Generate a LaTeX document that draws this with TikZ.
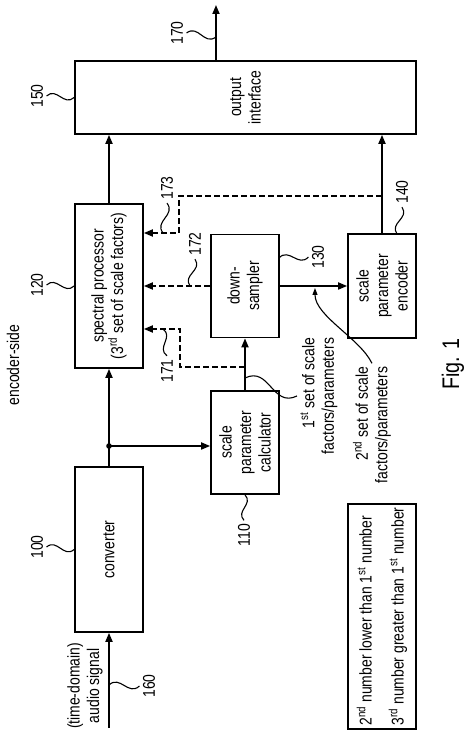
\documentclass[tikz,border=0pt]{standalone}
\usepackage{fontspec}
\setmainfont{Liberation Sans}[FakeStretch=0.82]
\usepackage{tikz}
\usetikzlibrary{calc}
\usetikzlibrary{arrows.meta}

\tikzset{
    blk/.style={draw, line width=1.7pt, minimum height=68pt, inner sep=2pt, align=center},
    flow/.style={line width=1.7pt, -{Triangle[length=9pt,width=7pt]}},
    sidepath/.style={flow, dash pattern=on 6pt off 3pt},
    lead/.style={line width=1.1pt},
}
\newcommand{\squig}[2]{\draw[lead] (#1) .. controls ($(#1)!0.5!45:(#2)$) and ($(#2)!0.5!45:(#1)$) .. (#2);}

\begin{document}
\begin{tikzpicture}[x=1pt, y=1pt, rotate=90, transform shape, font=\fontsize{17}{19.5}\selectfont]
    \useasboundingbox (0,0) rectangle (736,474);

    %blocks
    \node[blk, minimum width=165pt] (conv) at (186.5,365) {converter};
    \node[blk, minimum width=164pt] (spec) at (450,365) {spectral processor\\(3\textsuperscript{rd} set of scale factors)};
    \node[blk, minimum width=103pt] (calc) at (293.5,229) {scale\\parameter\\calculator};
    \node[blk, minimum width=103pt] (down) at (450,229) {down-\\sampler};
    \node[blk, minimum width=104pt] (enc) at (450,92) {scale\\parameter\\encoder};
    \node[blk, minimum width=73pt, minimum height=341pt] (oif) at (638.5,228.5) {output\\interface};
    \node[blk, minimum width=225pt, align=left] (note) at (119.5,92) {2\textsuperscript{nd} number lower than 1\textsuperscript{st} number\\[12.5pt]3\textsuperscript{rd} number greater than 1\textsuperscript{st} number};

    %signal path
    \coordinate (src) at (8,365);
    \coordinate (dot) at (290,365);
    \coordinate (dst) at (731,258);
    \draw[flow] (src) -- (conv.west);
    \draw[flow] (conv.east) -- (spec.west);
    \fill (dot) circle (2.8pt);
    \draw[flow] (dot) -- (dot |- calc.north);
    \draw[flow] (calc.east) -- (down.west);
    \draw[flow] (down.south) -- (enc.north);
    \draw[flow] (spec.east) -- (spec.east -| oif.west);
    \draw[flow] (enc.east) -- (enc.east -| oif.west);
    \draw[flow] (dst -| oif.east) -- (dst);

    %dashed side paths
    \coordinate (k173) at (540,92);
    \coordinate (b173) at (503,295);
    \coordinate (k171) at (369,229);
    \coordinate (b171) at (407,294);
    \draw[sidepath] (k173) |- (b173) -- (b173 |- spec.south);
    \draw[sidepath] (down.north) -- (down.north |- spec.south);
    \draw[sidepath] (k171) |- (b171) -- (b171 |- spec.south);

    %reference numbers
    \node (n170) at (703,297) {170};
    \node (n150) at (640,437) {150};
    \node (n120) at (451,437) {120};
    \node (n100) at (189,437) {100};
    \node (n173) at (548,307) {173};
    \node (n172) at (492,279) {172};
    \node (n171) at (365,307) {171};
    \node (n160) at (50,325) {160};
    \node (n110) at (201,230) {110};
    \node (n130) at (479,156) {130};
    \node (n140) at (544,72) {140};

    %texts
    \node[align=center] (sig) at (50,389) {(time-domain)\\audio signal};
    \node[align=right] (first) at (340,155) {1\textsuperscript{st} set of scale\\factors/parameters};
    \node[align=right] (second) at (311,102) {2\textsuperscript{nd} set of scale\\factors/parameters};
    \node (encs) at (371,461) {encoder-side};
    \node[font=\fontsize{24}{28}\selectfont] (fig) at (372,21) {Fig. 1};

    %leaders
    \coordinate (t170) at (699,258);
    \coordinate (t173) at (503,311);
    \coordinate (t172) at (450,284);
    \coordinate (t171) at (407,311);
    \coordinate (t160) at (51,365);
    \coordinate (t130) at (478,195);
    \coordinate (t140) at (502,77);
    \coordinate (t1) at (358,229);
    \coordinate (t2) at (448,159);
    \squig{n170.south}{t170}
    \squig{n150.south}{oif.north}
    \squig{n120.south}{spec.north}
    \squig{n100.south}{conv.north}
    \squig{n173.west}{t173}
    \squig{n172.west}{t172}
    \squig{n171.east}{t171}
    \squig{n160.north}{t160}
    \squig{n110.east}{calc.west}
    \squig{n130.north}{t130}
    \squig{n140.west}{t140}
    \squig{t1}{first.north}
    \draw[lead, -{Triangle[length=7pt,width=5pt]}] (second.east) .. controls +(25,12) and +(-28,0) .. (t2);

\end{tikzpicture}
\end{document}
